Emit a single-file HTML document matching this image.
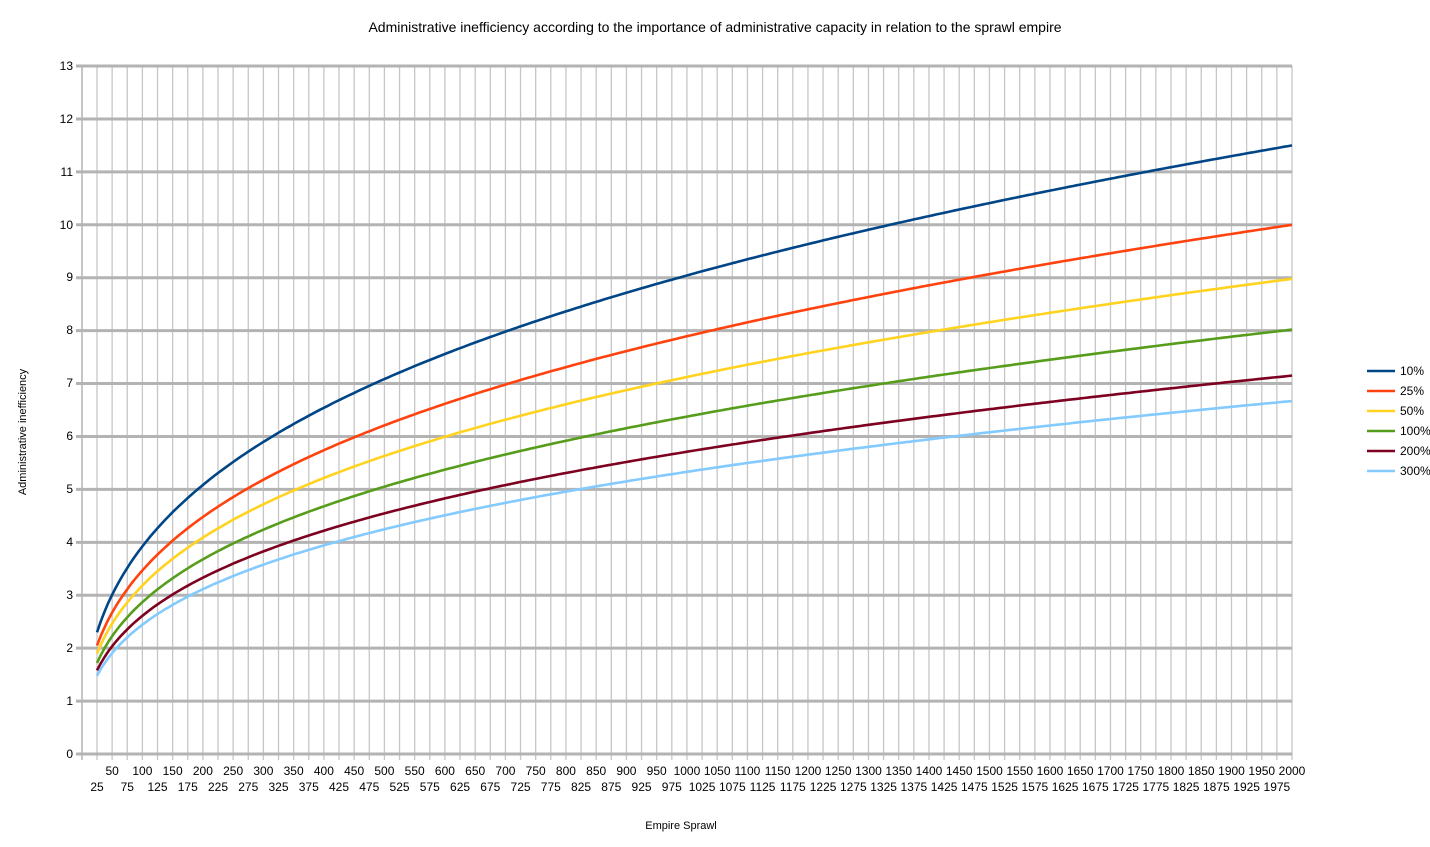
<!DOCTYPE html>
<html><head><meta charset="utf-8"><style>
body{margin:0;background:#fff;}
svg{display:block;font-family:"Liberation Sans",Arial,sans-serif;}
</style></head><body>
<svg id="s" width="1430" height="847" viewBox="0 0 1430 847">
<rect width="1430" height="847" fill="#fff"/>
<g id="grid"></g>
<g id="curves"></g>
<text x="715" y="32" font-size="14" text-anchor="middle" fill="#000">Administrative inefficiency according to the importance of administrative capacity in relation to the sprawl empire</text>
<text x="26" y="432" font-size="11" text-anchor="middle" transform="rotate(-90 26 432)">Administrative inefficiency</text>
<text x="681" y="829" font-size="11" text-anchor="middle">Empire Sprawl</text>
<g font-size="12" text-anchor="end" fill="#000">
<text x="73" y="758">0</text><text x="73" y="705">1</text><text x="73" y="652">2</text><text x="73" y="599">3</text><text x="73" y="546">4</text><text x="73" y="493">5</text><text x="73" y="440">6</text><text x="73" y="387">7</text><text x="73" y="334">8</text><text x="73" y="281">9</text><text x="73" y="229">10</text><text x="73" y="176">11</text><text x="73" y="123">12</text><text x="73" y="70">13</text>
</g>
<g id="xl" font-size="12" text-anchor="middle" fill="#000">
<text>25</text><text>50</text><text>75</text><text>100</text><text>125</text><text>150</text><text>175</text><text>200</text><text>225</text><text>250</text><text>275</text><text>300</text><text>325</text><text>350</text><text>375</text><text>400</text><text>425</text><text>450</text><text>475</text><text>500</text><text>525</text><text>550</text><text>575</text><text>600</text><text>625</text><text>650</text><text>675</text><text>700</text><text>725</text><text>750</text><text>775</text><text>800</text><text>825</text><text>850</text><text>875</text><text>900</text><text>925</text><text>950</text><text>975</text><text>1000</text><text>1025</text><text>1050</text><text>1075</text><text>1100</text><text>1125</text><text>1150</text><text>1175</text><text>1200</text><text>1225</text><text>1250</text><text>1275</text><text>1300</text><text>1325</text><text>1350</text><text>1375</text><text>1400</text><text>1425</text><text>1450</text><text>1475</text><text>1500</text><text>1525</text><text>1550</text><text>1575</text><text>1600</text><text>1625</text><text>1650</text><text>1675</text><text>1700</text><text>1725</text><text>1750</text><text>1775</text><text>1800</text><text>1825</text><text>1850</text><text>1875</text><text>1900</text><text>1925</text><text>1950</text><text>1975</text><text>2000</text>
</g>
<g font-size="12" fill="#000">
<line x1="1367" y1="371" x2="1395" y2="371" stroke="#004586" stroke-width="2.5"/><text x="1400" y="375">10%</text>
<line x1="1367" y1="391" x2="1395" y2="391" stroke="#ff420e" stroke-width="2.5"/><text x="1400" y="395">25%</text>
<line x1="1367" y1="411" x2="1395" y2="411" stroke="#ffd320" stroke-width="2.5"/><text x="1400" y="415">50%</text>
<line x1="1367" y1="431" x2="1395" y2="431" stroke="#579d1c" stroke-width="2.5"/><text x="1400" y="435">100%</text>
<line x1="1367" y1="451" x2="1395" y2="451" stroke="#7e0021" stroke-width="2.5"/><text x="1400" y="455">200%</text>
<line x1="1367" y1="471" x2="1395" y2="471" stroke="#83caff" stroke-width="2.5"/><text x="1400" y="475">300%</text>
</g>
</svg>
<script>
var NS="http://www.w3.org/2000/svg";
var X0=97,DX=(1292-97)/79,Y0=754,DY=52.92;
function el(p,t,a){var e=document.createElementNS(NS,t);for(var k in a)e.setAttribute(k,a[k]);p.appendChild(e);return e;}
var g=document.getElementById('grid');
for(var i=0;i<80;i++){var x=X0+i*DX;el(g,'line',{x1:x,y1:66,x2:x,y2:760,stroke:'#c6c6c6','stroke-width':1.3});}
el(g,'line',{x1:82,y1:66,x2:82,y2:760,stroke:'#b3b3b3','stroke-width':1.5});
for(var j=0;j<=13;j++){var y=Y0-j*DY;el(g,'line',{x1:76,y1:y,x2:1292,y2:y,stroke:'#b3b3b3','stroke-width':3});}
var xl=document.getElementById('xl').children;
for(var i=0;i<xl.length;i++){xl[i].setAttribute('x',X0+i*DX);xl[i].setAttribute('y',i%2==0?791:775);}
var S=[["#004586",2.3,11.5],["#ff420e",2.05,10.0],["#ffd320",1.9,8.98],["#579d1c",1.72,8.02],["#7e0021",1.58,7.15],["#83caff",1.48,6.67]];
var c=document.getElementById('curves');
S.forEach(function(s){var b=Math.log(s[2]/s[1])/Math.log(80);var pts=[];
for(var i=0;i<=79*4;i++){var t=i/4;var v=25*(t+1);var u=Math.log(v/25)/Math.log(80);var y=s[1]*Math.pow(v/25,b)*(1+0.03*Math.sin(Math.PI*u));pts.push((X0+t*DX).toFixed(1)+","+(Y0-y*DY).toFixed(1));}
el(c,'polyline',{points:pts.join(' '),fill:'none',stroke:s[0],'stroke-width':2.6,'stroke-linejoin':'round'});});
</script>
</body></html>
